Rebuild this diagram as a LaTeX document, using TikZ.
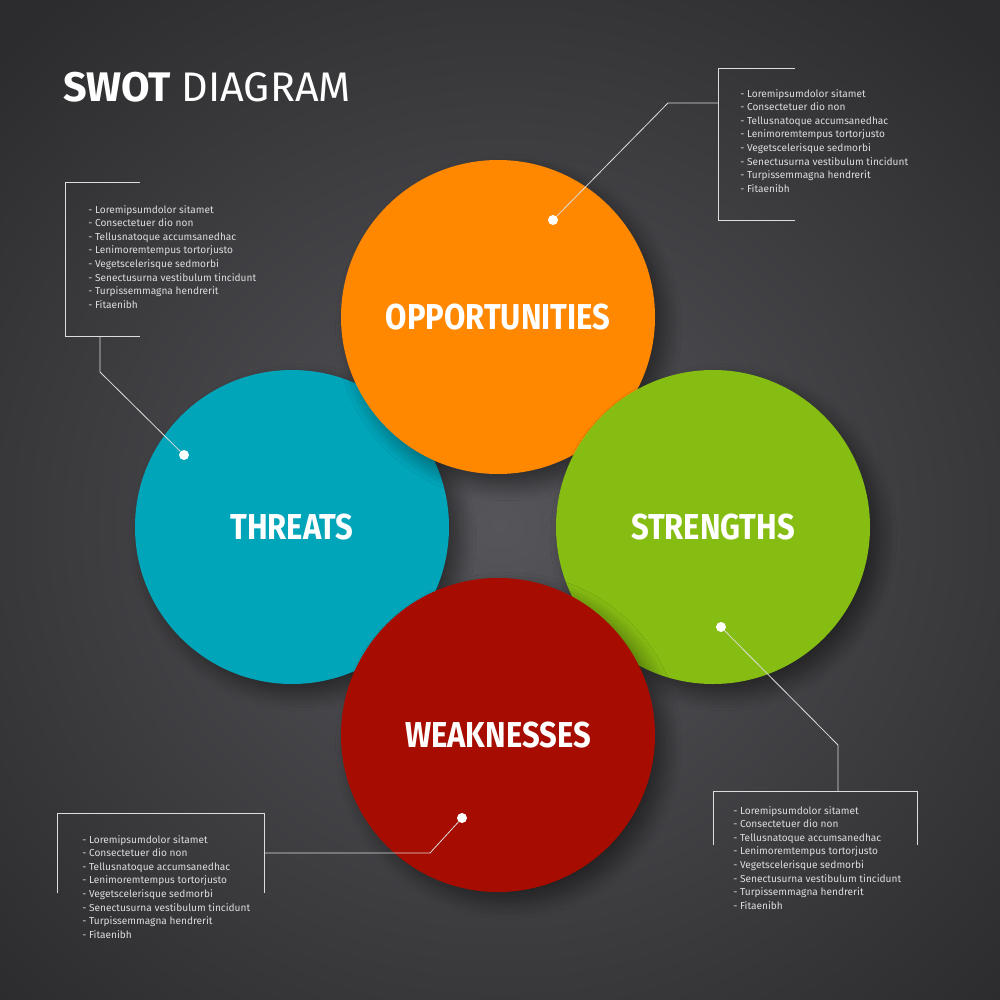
\documentclass[tikz,border=0pt]{standalone}
\usepackage{fontspec}
\setmainfont{Fira Sans}
\usepackage{graphicx}
\usetikzlibrary{shadows.blur}
\definecolor{bgin}{HTML}{55555A}
\definecolor{bgout}{HTML}{2C2C2E}
\definecolor{cT}{HTML}{00A5BA}
\definecolor{cO}{HTML}{FF8800}
\definecolor{cS}{HTML}{86BD13}
\definecolor{cW}{HTML}{A60C00}
\definecolor{ln}{HTML}{DDDDDD}
\newcommand{\lbl}[1]{\scalebox{0.86}[1]{#1}}
\begin{document}
\begin{tikzpicture}[x=0.75pt,y=-0.75pt,
  circ/.style={circle,minimum size=314*0.75pt,inner sep=0pt,text=white,font=\bfseries\fontsize{27}{30}\selectfont,
     blur shadow={shadow xshift=8pt,shadow yshift=-8pt,shadow blur steps=12,shadow opacity=45,shadow blur radius=12pt}},
  lst/.style={align=left,anchor=north west,text=ln,inner sep=0pt,font=\fontsize{7.6}{10.2}\selectfont},
  con/.style={draw=ln,line width=0.6pt},
  dot/.style={circle,fill=white,inner sep=0pt,minimum size=7.5pt}]
\useasboundingbox (0,0) rectangle (1000,1000);
\shade[inner color=bgin,outer color=bgout] (-200,-150) rectangle (1200,1200);
\node[anchor=base west,text=white,inner sep=0pt,font=\fontsize{31}{31}\selectfont] (title) at (63,101) {\textbf{SWOT} DIAGRAM};
\node[circ,fill=cT] (T) at (292,527) {\lbl{THREATS}};
\node[circ,fill=cO] (O) at (498,317) {\lbl{OPPORTUNITIES}};
\node[circ,fill=cS] (S) at (713,527) {\lbl{STRENGTHS}};
\node[circ,fill=cW] (W) at (498,735) {\lbl{WEAKNESSES}};
\newcommand{\lorem}{- Loremipsumdolor sitamet\\- Consectetuer dio non\\- Tellusnatoque accumsanedhac\\- Lenimoremtempus tortorjusto\\- Vegetscelerisque sedmorbi\\- Senectusurna vestibulum tincidunt\\- Turpissemmagna hendrerit\\- Fitaenibh}
% top right
\node[lst] (tO) at (740,89) {\lorem};
\node[dot] (dO) at (553,220) {};
\coordinate (bO1) at (795,68); \coordinate (bO2) at (718,68); \coordinate (bO3) at (718,220); \coordinate (bO4) at (795,220);
\coordinate (kO) at (668,103); \coordinate (eO) at (718,103);
\draw[con] (bO1) -- (bO2) -- (bO3) -- (bO4);
\draw[con] (dO) -- (kO) -- (eO);
% left
\node[lst] (tT) at (88,205) {\lorem};
\node[dot] (dT) at (184,455) {};
\coordinate (bT1) at (140,182); \coordinate (bT2) at (65,182); \coordinate (bT3) at (65,336); \coordinate (bT4) at (140,336);
\coordinate (kT0) at (100,336); \coordinate (kT) at (100,372);
\draw[con] (bT1) -- (bT2) -- (bT3) -- (bT4);
\draw[con] (kT0) -- (kT) -- (dT);
% bottom right
\node[lst] (tS) at (733,806) {\lorem};
\node[dot] (dS) at (721,627) {};
\coordinate (bS1) at (713,845); \coordinate (bS2) at (713,791); \coordinate (bS3) at (917,791); \coordinate (bS4) at (917,845);
\coordinate (kS0) at (838,791); \coordinate (kS) at (838,745);
\draw[con] (bS1) -- (bS2) -- (bS3) -- (bS4);
\draw[con] (kS0) -- (kS) -- (dS);
% bottom left
\node[lst] (tW) at (82,835) {\lorem};
\node[dot] (dW) at (462,818) {};
\coordinate (bW1) at (57,893); \coordinate (bW2) at (57,813); \coordinate (bW3) at (264,813); \coordinate (bW4) at (264,893);
\coordinate (kW0) at (264,853); \coordinate (kW) at (430,853);
\draw[con] (bW1) -- (bW2) -- (bW3) -- (bW4);
\draw[con] (kW0) -- (kW) -- (dW);
\end{tikzpicture}
\end{document}
